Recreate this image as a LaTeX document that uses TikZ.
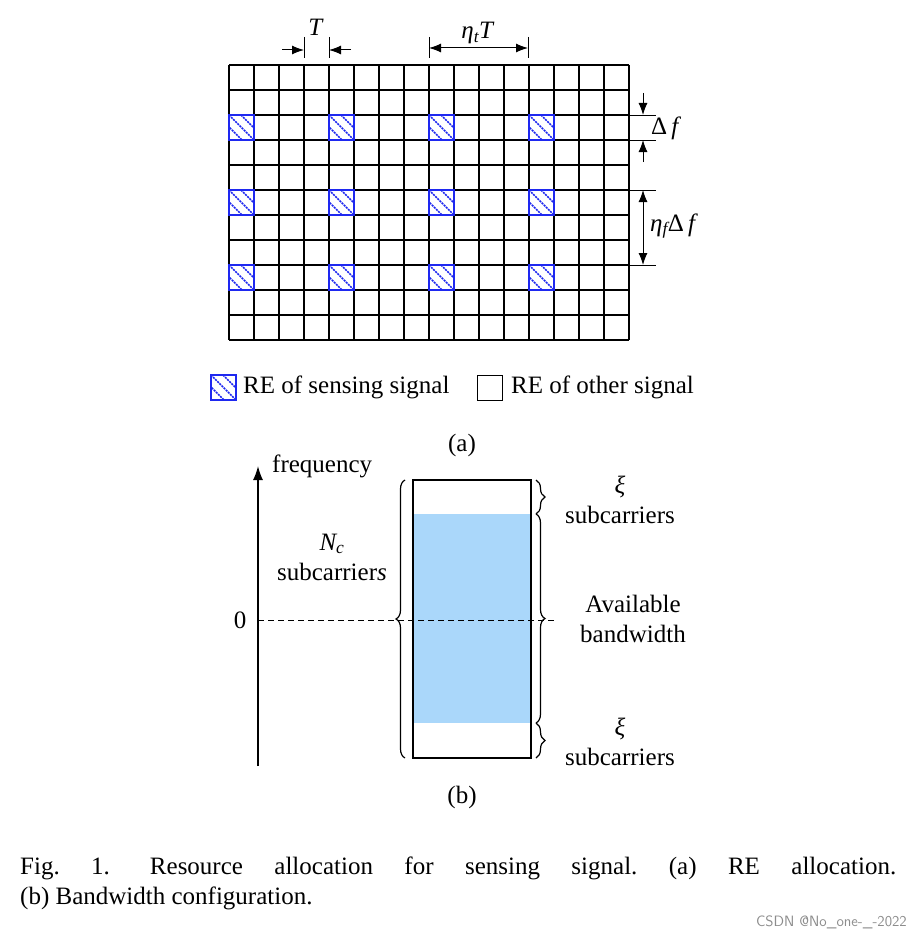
\documentclass[tikz,border=0pt]{standalone}
\usepackage{fontspec}
\setmainfont{Liberation Serif}
\usetikzlibrary{decorations.pathreplacing,arrows.meta}
\begin{document}
\frenchspacing
\begin{tikzpicture}[x=1pt,y=-1pt,
  lbl/.style={font=\fontsize{25}{30}\selectfont,inner sep=0pt},
  dim/.style={-{Latex[length=12pt,width=9pt]},line width=1pt},
  dd/.style={{Latex[length=12pt,width=9pt]}-{Latex[length=12pt,width=9pt]},line width=1pt},
  brc/.style={decorate,decoration={brace,amplitude=9pt},line width=1.2pt}]
\useasboundingbox (0,0) rectangle (912,939);
\definecolor{sb}{RGB}{30,40,240}
\definecolor{lb}{RGB}{170,215,250}
% sensing cells
\foreach \c in {0,4,8,12}{\foreach \r in {2,5,8}{
  \begin{scope}
  \clip (229+25*\c,65+25*\r) rectangle ++(25,25);
  \foreach \d in {-12,0,12} \draw[sb,line width=1.5pt,dash pattern=on 2pt off 1pt] (229+25*\c+\d,65+25*\r) -- ++(25,25);
  \end{scope}}}
\foreach \i in {0,...,16} \draw[line width=1.2pt] (229+25*\i,65) -- (229+25*\i,340);
\foreach \j in {0,...,11} \draw[line width=1.2pt] (229,65+25*\j) -- (629,65+25*\j);
\foreach \c in {0,4,8,12}{\foreach \r in {2,5,8}{
  \draw[sb,line width=1.2pt] (229+25*\c,65+25*\r) rectangle ++(25,25);}}
% T
\draw[line width=0.8pt] (304,37) -- (304,58) (329,37) -- (329,58);
\coordinate (t1) at (282,50); \coordinate (t1e) at (304,50);
\coordinate (t2) at (351,50); \coordinate (t2e) at (329,50);
\draw[dim] (t1) -- (t1e); \draw[dim] (t2) -- (t2e);
\node[lbl] (T) at (316,27) {\textit{T}};
\draw[line width=0.8pt] (429,37) -- (429,58) (528,37) -- (528,58);
\coordinate (e1) at (429,48); \coordinate (e2) at (528,48);
\draw[dd] (e1) -- (e2);
\node[lbl] (etT) at (478,33) {\textit{η\textsubscript{t}T}};
% Delta f
\draw[line width=0.8pt] (630,115) -- (656,115) (630,140) -- (656,140);
\coordinate (d1) at (643,93); \coordinate (d1e) at (643,115);
\coordinate (d2) at (643,162); \coordinate (d2e) at (643,140);
\draw[dim] (d1) -- (d1e); \draw[dim] (d2) -- (d2e);
\node[lbl,anchor=west] (df) at (651,128) {Δ\,\textit{f}};
\draw[line width=0.8pt] (630,190) -- (656,190) (630,265) -- (656,265);
\coordinate (f1) at (643,190); \coordinate (f2) at (643,265);
\draw[dd] (f1) -- (f2);
\node[lbl,anchor=west] (efdf) at (650,226) {\textit{η\textsubscript{f}}Δ\,\textit{f}};
% legend
\begin{scope}
\clip (211,375) rectangle (236,400);
\foreach \d in {-12,0,12} \draw[sb,line width=1.5pt,dash pattern=on 2pt off 1pt] (211+\d,375) -- ++(25,25);
\end{scope}
\draw[sb,line width=1.2pt] (211,375) rectangle (236,400);
\node[lbl,anchor=west] (l1) at (243,387) {RE of sensing signal};
\draw[line width=1pt] (477,375) rectangle (502,400);
\node[lbl,anchor=west] (l2) at (511,387) {RE of other signal};
\node[lbl] (a) at (462,445) {(a)};
% (b)
\coordinate (ax0) at (258,766); \coordinate (ax1) at (258,466);
\draw[-{Latex[length=14pt,width=10pt]},line width=1.5pt] (ax0) -- (ax1);
\node[lbl,anchor=west] (fr) at (272,466) {frequency};
\node[lbl] (zero) at (240,620) {0};
\fill[lb] (413,514) rectangle (531,723);
\draw[line width=0.8pt,dash pattern=on 6pt off 4pt] (258,620) -- (555,620);
\draw[line width=2pt] (413,480) rectangle (531,758);
\draw[brc] (405,758) -- (405,480);
\node[lbl,align=center] (nc) at (332,557) {\textit{N\textsubscript{c}}\\subcarrier\textit{s}};
\draw[brc] (536,480) -- (536,514);
\draw[brc] (536,514) -- (536,723);
\draw[brc] (536,723) -- (536,758);
\node[lbl,align=center] (x1) at (620,500) {\textit{ξ}\\subcarriers};
\node[lbl,align=center] (ab) at (633,619) {Available\\bandwidth};
\node[lbl,align=center] (x2) at (620,742) {\textit{ξ}\\subcarriers};
\node[lbl] (b) at (462,797) {(b)};
% caption
\node[lbl,anchor=north west,text width=876pt,align=justify] (cap) at (20,857)
  {Fig.~1.\hspace{1.6em}Resource allocation for sensing signal. (a) RE allocation.\linebreak (b) Bandwidth configuration.};
\node[font=\sffamily\fontsize{15}{17}\selectfont,text=black!45,anchor=east,inner sep=0pt] (wm) at (907,922) {CSDN @No\_one-\_-2022};
\end{tikzpicture}
\end{document}
